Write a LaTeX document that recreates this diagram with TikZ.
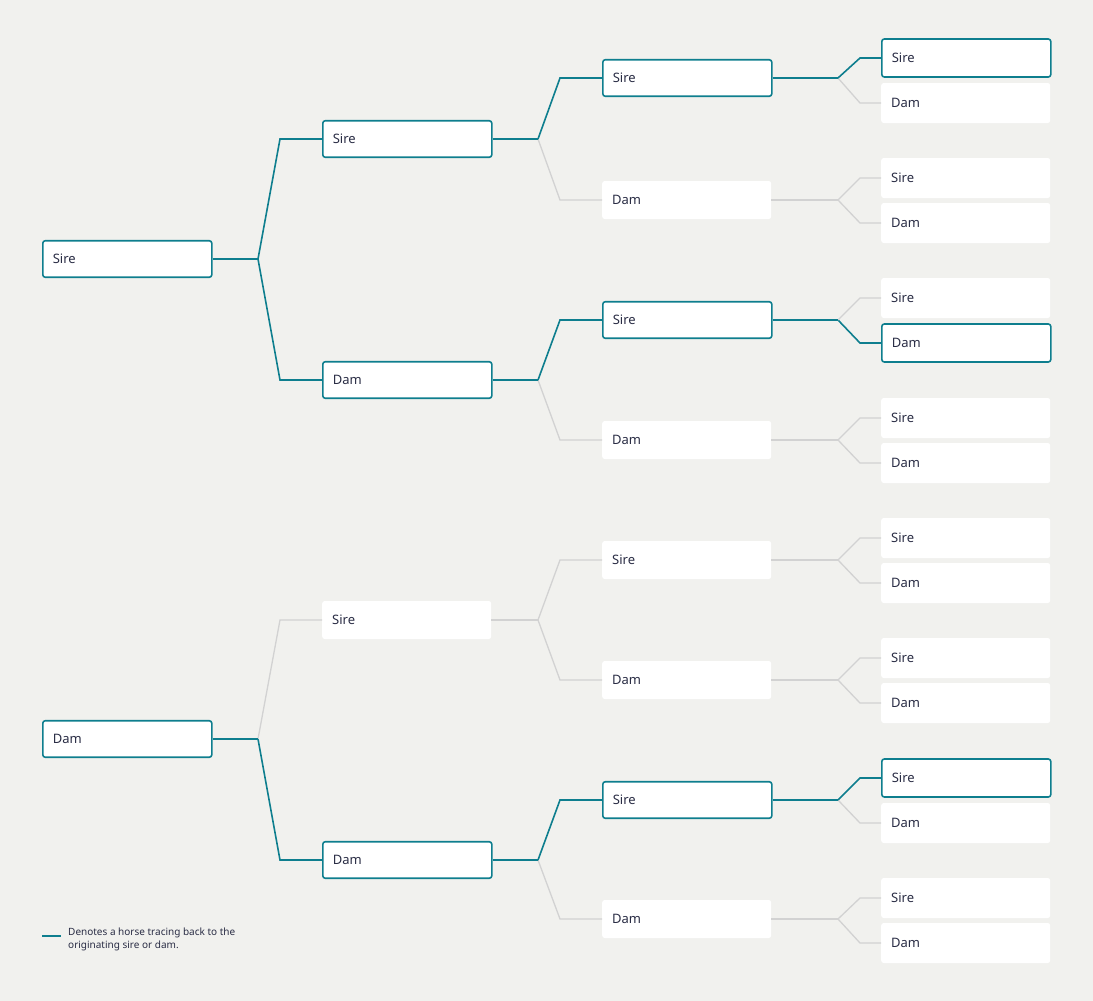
\documentclass[tikz,border=0pt]{standalone}
\usepackage{fontspec}
\setmainfont{Noto Sans}
\definecolor{teal1}{HTML}{0E7E8E}
\definecolor{grey1}{HTML}{D2D2D2}
\definecolor{bg}{HTML}{F1F1EE}
\definecolor{txt}{HTML}{2A2D45}
\begin{document}
\begin{tikzpicture}[x=1pt,y=-1pt,
  box/.style={draw=none,fill=white,rounded corners=2.5pt,minimum width=169pt,minimum height=38pt,inner xsep=10pt,anchor=west,text=txt,font=\fontsize{13}{15}\selectfont,text width=149pt,align=left},
  hbox/.style={box,draw=teal1,line width=1.6pt,minimum width=167.5pt,minimum height=36.5pt},
  hl/.style={draw=teal1,line width=1.6pt},
  gl/.style={draw=grey1,line width=1.3pt}]
\fill[bg] (0,0) rectangle (1093,1001);
% nodes
\node[hbox] (a1) at (42,259) {Sire};
\node[hbox] (a2) at (42,739) {Dam};
\node[hbox] (b1) at (322,139) {Sire};
\node[hbox] (b2) at (322,380) {Dam};
\node[box] (b3) at (322,620) {Sire};
\node[hbox] (b4) at (322,860) {Dam};
\foreach \i/\y/\t/\h in {1/78/Sire/1,2/200/Dam/0,3/320/Sire/1,4/440/Dam/0,5/560/Sire/0,6/680/Dam/0,7/800/Sire/1,8/919/Dam/0}{
  \ifnum\h=1 \node[hbox] (c\i) at (602,\y) {\t};\else \node[box] (c\i) at (602,\y) {\t};\fi}
\foreach \i/\y/\t/\h in {1/58/Sire/1,2/103/Dam/0,3/178/Sire/0,4/223/Dam/0,5/298/Sire/0,6/343/Dam/1,7/418/Sire/0,8/463/Dam/0,9/538/Sire/0,10/583/Dam/0,11/658/Sire/0,12/703/Dam/0,13/778/Sire/1,14/823/Dam/0,15/898/Sire/0,16/943/Dam/0}{
  \ifnum\h=1 \node[hbox,minimum height=38pt] (d\i) at (881,\y) {\t};\else \node[box,minimum height=40pt] (d\i) at (881,\y) {\t};\fi}
% connectors
\foreach \p/\ca/\cb/\sa/\sb/\fx/\ex in {a1/b1/b2/hl/hl/258/280,a2/b3/b4/gl/hl/258/280,
  b1/c1/c2/hl/gl/538/560,b2/c3/c4/hl/gl/538/560,b3/c5/c6/gl/gl/538/560,b4/c7/c8/hl/gl/538/560,
  c1/d1/d2/hl/gl/838/860,c2/d3/d4/gl/gl/838/860,c3/d5/d6/gl/hl/838/860,c4/d7/d8/gl/gl/838/860,
  c5/d9/d10/gl/gl/838/860,c6/d11/d12/gl/gl/838/860,c7/d13/d14/hl/gl/838/860,c8/d15/d16/gl/gl/838/860}{
  \coordinate (f) at (\fx,0 |- \p.east);
  \path[\sb] (f) -- (\ex,0 |- \cb.west) -- (\cb.west);
  \path[\sa] (f) -- (\ex,0 |- \ca.west) -- (\ca.west);
}
\foreach \p/\fx in {a1/258,a2/258,b1/538,b2/538,b4/538,c1/838,c3/838,c7/838} \path[hl] (\p.east) -- (\fx,0 |- \p.east);
\foreach \p/\fx in {b3/538,c2/838,c4/838,c5/838,c6/838,c8/838} \path[gl] (\p.east) -- (\fx,0 |- \p.east);
% legend
\coordinate (l1) at (42,936);
\coordinate (l2) at (61,936);
\path[hl] (l1) -- (l2);
\node[anchor=north west,text=txt,font=\fontsize{10}{12.5}\selectfont,align=left,inner sep=0pt] (leg) at (68,928) {Denotes a horse tracing back to the\\originating sire or dam.};
\end{tikzpicture}
\end{document}
